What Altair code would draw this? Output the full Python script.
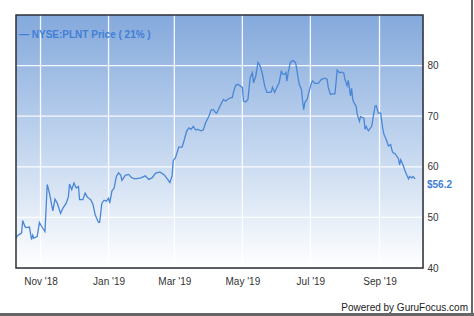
import altair as alt
import pandas as pd

dates = [
    "2018-10-10", "2018-10-11", "2018-10-12", "2018-10-15", "2018-10-16", "2018-10-18", "2018-10-19",
    "2018-10-22", "2018-10-24", "2018-10-25", "2018-10-26", "2018-10-29", "2018-10-31", "2018-11-02",
    "2018-11-05", "2018-11-07", "2018-11-09", "2018-11-12", "2018-11-14", "2018-11-16", "2018-11-19",
    "2018-11-21", "2018-11-24", "2018-11-26", "2018-11-27", "2018-11-29", "2018-12-01", "2018-12-03",
    "2018-12-05", "2018-12-06", "2018-12-09", "2018-12-11", "2018-12-13", "2018-12-16", "2018-12-18",
    "2018-12-20", "2018-12-23", "2018-12-24", "2018-12-26", "2018-12-28", "2018-12-30", "2019-01-01",
    "2019-01-02", "2019-01-04", "2019-01-06", "2019-01-08", "2019-01-10", "2019-01-12", "2019-01-13",
    "2019-01-16", "2019-01-19", "2019-01-22", "2019-01-25", "2019-01-30", "2019-02-03", "2019-02-06",
    "2019-02-09", "2019-02-12", "2019-02-16", "2019-02-20", "2019-02-23", "2019-02-25", "2019-02-27",
    "2019-02-28", "2019-03-02", "2019-03-04", "2019-03-05", "2019-03-08", "2019-03-10", "2019-03-12",
    "2019-03-14", "2019-03-16", "2019-03-18", "2019-03-20", "2019-03-22", "2019-03-25", "2019-03-27",
    "2019-03-29", "2019-04-01", "2019-04-03", "2019-04-05", "2019-04-07", "2019-04-08", "2019-04-11",
    "2019-04-14", "2019-04-16", "2019-04-19", "2019-04-22", "2019-04-23", "2019-04-25", "2019-04-27",
    "2019-04-29", "2019-05-01", "2019-05-02", "2019-05-04", "2019-05-06", "2019-05-08", "2019-05-10",
    "2019-05-11", "2019-05-13", "2019-05-15", "2019-05-17", "2019-05-19", "2019-05-21", "2019-05-23",
    "2019-05-25", "2019-05-27", "2019-05-28", "2019-05-30", "2019-06-01", "2019-06-03", "2019-06-05",
    "2019-06-06", "2019-06-08", "2019-06-09", "2019-06-10", "2019-06-11", "2019-06-13", "2019-06-15",
    "2019-06-17", "2019-06-18", "2019-06-20", "2019-06-21", "2019-06-23", "2019-06-24", "2019-06-25",
    "2019-06-26", "2019-06-28", "2019-06-30", "2019-07-02", "2019-07-03", "2019-07-05", "2019-07-08",
    "2019-07-11", "2019-07-14", "2019-07-16", "2019-07-17", "2019-07-19", "2019-07-21", "2019-07-23",
    "2019-07-24", "2019-07-25", "2019-07-27", "2019-07-29", "2019-07-31", "2019-08-01", "2019-08-03",
    "2019-08-04", "2019-08-06", "2019-08-07", "2019-08-08", "2019-08-09", "2019-08-11", "2019-08-12",
    "2019-08-14", "2019-08-15", "2019-08-18", "2019-08-19", "2019-08-20", "2019-08-22", "2019-08-25",
    "2019-08-26", "2019-08-28", "2019-08-29", "2019-08-31", "2019-09-02", "2019-09-04", "2019-09-05",
    "2019-09-07", "2019-09-09", "2019-09-11", "2019-09-12", "2019-09-13", "2019-09-15", "2019-09-18",
    "2019-09-19", "2019-09-20", "2019-09-22", "2019-09-24", "2019-09-27", "2019-09-28", "2019-09-30",
    "2019-10-01", "2019-10-03",
]

prices = [
    45.9, 46.3, 46.5, 46.9, 49.4, 48.2, 48.0,
    48.1, 45.6, 46.5, 45.9, 46.2, 49.0, 48.2,
    47.2, 56.5, 54.8, 51.3, 53.6, 52.8, 50.8,
    51.8, 52.8, 54.1, 56.6, 55.5, 56.8, 55.8,
    56.1, 53.5, 53.5, 54.8, 54.0, 53.5, 52.6,
    50.5, 49.0, 49.0, 52.8, 53.4, 53.2, 53.8,
    52.8, 55.2, 55.8, 58.1, 58.8, 58.3, 57.3,
    58.3, 58.5, 57.8, 57.6, 57.8, 58.2, 57.5,
    57.8, 58.7, 59.0, 58.4, 57.5, 56.9, 58.2,
    61.2, 61.8, 63.2, 63.9, 63.9, 65.4, 67.0,
    67.7, 67.4, 68.0, 67.3, 67.4, 67.1, 67.3,
    68.7, 70.0, 71.2, 71.3, 70.7, 70.6, 72.0,
    73.3, 73.0, 73.5, 73.7, 74.7, 76.1, 76.3,
    76.0, 75.7, 73.0, 72.8, 73.3, 77.6, 78.6,
    76.6, 77.9, 80.6, 79.9, 78.3, 76.0, 74.7,
    74.7, 74.8, 75.7, 74.7, 75.7, 76.6, 79.0,
    78.3, 78.3, 78.6, 76.9, 78.5, 80.6, 81.0,
    80.8, 80.3, 77.6, 76.3, 75.3, 73.0, 71.3,
    72.7, 73.3, 75.0, 76.6, 77.0, 76.5, 76.5,
    77.3, 77.5, 77.3, 75.7, 74.3, 74.4, 74.4,
    76.6, 79.1, 78.6, 78.7, 78.5, 77.3, 76.0,
    77.1, 74.0, 75.5, 73.3, 72.7, 72.0, 70.4,
    69.0, 69.9, 69.6, 67.4, 68.0, 67.1, 68.0,
    69.4, 72.0, 72.1, 70.6, 70.6, 67.4, 66.4,
    65.4, 64.1, 64.4, 63.4, 62.8, 62.6, 61.6,
    60.4, 61.4, 60.4, 59.1, 57.6, 58.1, 57.8,
    58.1, 57.6,
]

x_tick_dates = ["2018-11-01", "2019-01-01", "2019-03-01", "2019-05-01", "2019-07-01", "2019-09-01"]
y_ticks = [40, 50, 60, 70, 80, 90]
y_grid = [50, 60, 70, 80]
legend_text = ["— NYSE:PLNT Price ( 21% )"]
last_label = ["$56.2"]
last_value = [56.2]
footer_text = ["Powered by GuruFocus.com"]

W, H = 407, 253
FONT = "Liberation Sans"
BLUE = "#3f7fd6"
FS = 10

df = pd.DataFrame({"date": dates, "price": prices})

x_scale = alt.Scale(domain=[alt.DateTime(year=2018, month=10, date=10),
                            alt.DateTime(year=2019, month=10, date=10)])
y_scale = alt.Scale(domain=[40, 90], nice=False, zero=False)

x_enc = alt.X(
    "date:T", scale=x_scale,
    axis=alt.Axis(
        values=[alt.DateTime(year=2018, month=11, date=1),
                alt.DateTime(year=2019, month=1, date=1),
                alt.DateTime(year=2019, month=3, date=1),
                alt.DateTime(year=2019, month=5, date=1),
                alt.DateTime(year=2019, month=7, date=1),
                alt.DateTime(year=2019, month=9, date=1)],
        format="%b '%y", title=None, ticks=False, domain=False, grid=False,
        labelPadding=8, labelFontSize=FS, labelColor="#333", labelFont=FONT,
    ),
)

y_enc = alt.Y(
    "price:Q", scale=y_scale,
    axis=alt.Axis(
        orient="right", values=y_ticks, title=None, ticks=False, domain=False, grid=False,
        labelPadding=4, labelFontSize=FS, labelColor="#333", labelFont=FONT,
        labelExpr="datum.value == 90 ? '' : datum.label",
    ),
)

one = pd.DataFrame({"a": [0]})

bg = alt.Chart(one).mark_rect(
    color=alt.LinearGradient(
        gradient="linear", x1=0, y1=0, x2=0, y2=1,
        stops=[alt.GradientStop(offset=0, color="#84a9dc"),
               alt.GradientStop(offset=0.5, color="#c0d4ee"),
               alt.GradientStop(offset=1, color="#ffffff")],
    )
).encode(x=alt.value(0), x2=alt.value(W), y=alt.value(0), y2=alt.value(H))

vgrid = alt.Chart(pd.DataFrame({"date": x_tick_dates})).mark_rule(
    color="white", opacity=0.9, strokeWidth=1.3
).encode(x=alt.X("date:T"))

hgrid = alt.Chart(pd.DataFrame({"price": y_grid})).mark_rule(
    color="white", opacity=0.9, strokeWidth=1.3
).encode(y=alt.Y("price:Q"))

line = alt.Chart(df).mark_line(color="#4a86d6", strokeWidth=1.3).encode(x=x_enc, y=y_enc)

border = alt.Chart(one).mark_rect(
    fillOpacity=0, stroke="#2b2f38", strokeWidth=1.5
).encode(x=alt.value(0), x2=alt.value(W), y=alt.value(0), y2=alt.value(H))

legend = alt.Chart(pd.DataFrame({"t": legend_text})).mark_text(
    align="left", baseline="middle", font=FONT, fontSize=FS, fontWeight="bold", color=BLUE
).encode(x=alt.value(3), y=alt.value(20), text="t:N")

last = alt.Chart(pd.DataFrame({"v": last_value, "t": last_label})).mark_text(
    align="left", baseline="middle", font=FONT, fontSize=FS, fontWeight="bold", color=BLUE, dy=-1
).encode(x=alt.value(W + 4), y=alt.Y("v:Q"), text="t:N")

footer = alt.Chart(pd.DataFrame({"t": footer_text})).mark_text(
    align="right", baseline="middle", font=FONT, fontSize=FS, color="#222"
).encode(x=alt.value(452), y=alt.value(293), text="t:N")

right_rule = alt.Chart(one).mark_rule(color="#666", strokeWidth=2).encode(
    x=alt.value(456), y=alt.value(-15), y2=alt.value(301))
bottom_rule = alt.Chart(one).mark_rule(color="#666", strokeWidth=3).encode(
    x=alt.value(-16), x2=alt.value(458), y=alt.value(299.5))

chart = alt.layer(bg, vgrid, hgrid, line, border, legend, last, footer,
                  right_rule, bottom_rule).properties(
    width=W, height=H,
    autosize=alt.AutoSizeParams(type="none"),
    padding={"left": 16, "top": 15, "right": 51, "bottom": 48},
).configure_view(
    stroke=None,
).configure(background="white")

chart.save("out.html", embed_options={"renderer": "svg", "actions": False})
